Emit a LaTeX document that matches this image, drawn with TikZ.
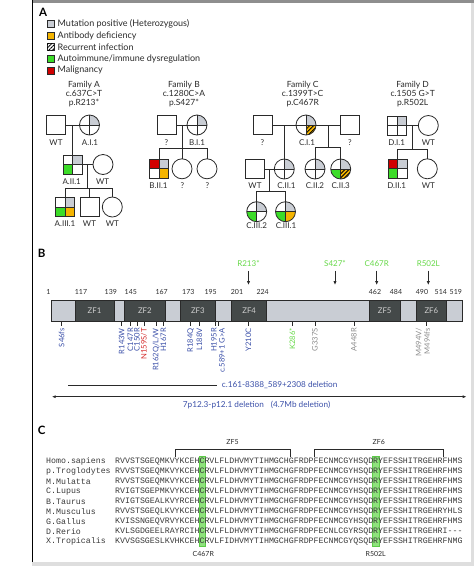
\documentclass[tikz,border=0pt]{standalone}
\usepackage{fontspec}
\setmainfont{Lato}
\setmonofont{Liberation Mono}
\usetikzlibrary{patterns.meta,arrows.meta}
\pgfdeclarelayer{bg}
\pgfsetlayers{bg,main}
\definecolor{mutgray}{HTML}{C9CDD4}
\definecolor{abor}{HTML}{F4B400}
\definecolor{grn}{HTML}{3CDC28}
\definecolor{mal}{HTML}{D00000}
\definecolor{linec}{HTML}{2A2A2A}
\definecolor{txt}{HTML}{2A2A2A}
\definecolor{zfdark}{HTML}{444949}
\definecolor{zftxt}{HTML}{D0D0D0}
\definecolor{mblue}{HTML}{3A4FA8}
\definecolor{mred}{HTML}{D42A2A}
\definecolor{mgreen}{HTML}{66D848}
\definecolor{mgray}{HTML}{8C8C8C}
\definecolor{seqc}{HTML}{3A3A3A}
\definecolor{hlfill}{HTML}{8EE27C}
\definecolor{hldraw}{HTML}{5CCB48}
\definecolor{topgray}{HTML}{8E8E8E}
\definecolor{edgegray}{HTML}{DEDEDE}
\newcommand\pedsq[5]{%
\begin{pgfonlayer}{bg}
\fill[#2] (#1.center) rectangle (#1.north west);
\fill[#3] (#1.center) rectangle (#1.north east);
\fill[#4] (#1.center) rectangle (#1.south west);
\fill[#5] (#1.center) rectangle (#1.south east);
\end{pgfonlayer}
\draw[pl] (#1.north) -- (#1.south) (#1.west) -- (#1.east);}
\newcommand\pedci[5]{%
\begin{pgfonlayer}{bg}
\begin{scope}
\clip (#1.center) circle[radius=10pt];
\fill[#2] (#1.center) rectangle (#1.north -| #1.west);
\fill[#3] (#1.center) rectangle (#1.north -| #1.east);
\fill[#4] (#1.center) rectangle (#1.south -| #1.west);
\fill[#5] (#1.center) rectangle (#1.south -| #1.east);
\end{scope}
\end{pgfonlayer}
\draw[pl] (#1.north) -- (#1.south) (#1.west) -- (#1.east);}
\begin{document}
\begin{tikzpicture}[x=1pt,y=-1pt,
  sq/.style={rectangle,draw=linec,line width=0.8pt,minimum size=19pt,inner sep=0pt,outer sep=0pt},
  ci/.style={circle,draw=linec,line width=0.8pt,minimum size=20pt,inner sep=0pt,outer sep=0pt},
  pl/.style={draw=linec,line width=0.8pt},
  lbl/.style={font=\fontsize{8}{9}\selectfont,text=txt,inner sep=0pt},
  fam/.style={font=\fontsize{8.5}{9.2}\selectfont,text=txt,align=center,inner sep=0pt},
  plab/.style={font=\bfseries\fontsize{11.5}{12}\selectfont,inner sep=0pt},
  legsq/.style={rectangle,draw=linec,line width=0.7pt,minimum size=7pt,inner sep=0pt},
  legtx/.style={font=\fontsize{9}{10}\selectfont,text=txt,anchor=west,inner sep=0pt},
  hatchor/.style={fill=abor,postaction={pattern={Lines[angle=45,distance=2.8pt,line width=0.8pt]},pattern color=black}},
  hatchw/.style={fill=white,postaction={pattern={Lines[angle=45,distance=2.6pt,line width=0.9pt]},pattern color=black}},
  bar/.style={rectangle,fill=mutgray,draw=linec,line width=0.8pt,minimum height=21.7pt,inner sep=0pt},
  zf/.style={rectangle,fill=zfdark,draw=linec,line width=0.8pt,minimum height=21.7pt,inner sep=0pt,text=zftxt,font=\fontsize{7.8}{8}\selectfont},
  num/.style={font=\fontsize{7}{8}\selectfont,text=txt,inner sep=0pt},
  glab/.style={font=\fontsize{8}{9}\selectfont,text=mgreen,inner sep=0pt},
  dtx/.style={font=\fontsize{8.2}{9}\selectfont,text=mblue,anchor=west,inner sep=0pt},
  mut/.style={font=\fontsize{7.6}{8.4}\selectfont,rotate=90,anchor=east,inner sep=0pt,align=right},
  tick/.style={draw=linec,line width=0.7pt},
  arr/.style={draw=linec,line width=0.8pt,-{Latex[length=4pt,width=3.4pt]}},
  darr/.style={draw=linec,line width=0.8pt,{Latex[length=4pt,width=3pt]}-{Latex[length=4pt,width=3pt]}},
  seq/.style={font=\ttfamily\fontsize{8.27}{9}\selectfont,text=seqc,anchor=west,inner sep=0pt},
  hl/.style={fill=hlfill,draw=hldraw,line width=0.5pt}]
\useasboundingbox (0,0) rectangle (474,566);
% frame
\fill[topgray] (32,0) rectangle (474,2.5);
\fill[edgegray] (471,2.5) rectangle (474,566);
\fill[edgegray] (32,562) rectangle (474,566);
\draw[black,line width=1pt] (32,0) -- (32,562);
% ---------------- Panel A ----------------
\node[plab] (pA) at (43,12.5) {A};
\node[legsq,fill=mutgray] (lg1) at (50.5,24) {};
\node[legtx] (lt1) at (57.5,24) {Mutation positive (Heterozygous)};
\node[legsq,fill=abor] (lg2) at (50.5,35.6) {};
\node[legtx] (lt2) at (57.5,35.6) {Antibody deficiency};
\node[legsq,hatchw] (lg3) at (50.5,47.2) {};
\node[legtx] (lt3) at (57.5,47.2) {Recurrent infection};
\node[legsq,fill=grn] (lg4) at (50.5,58.8) {};
\node[legtx] (lt4) at (57.5,58.8) {Autoimmune/immune dysregulation};
\node[legsq,fill=mal] (lg5) at (50.5,70.4) {};
\node[legtx] (lt5) at (57.5,70.4) {Malignancy};
% Family A
\node[fam] (famA) at (84,94.3) {Family A\\c.637C>T\\p.R213*};
\node[sq] (A0) at (56,125) {};
\node[ci] (A1) at (89.5,125) {};
\pedci{A1}{white}{mutgray}{white}{white}
\draw[pl] (A0) -- (A1);
\coordinate (mA1) at (72.5,125);
\node[sq] (A2) at (72.5,164.5) {};
\pedsq{A2}{white}{mutgray}{grn}{white}
\draw[pl] (mA1) -- (A2);
\node[ci] (A3) at (103,164.5) {};
\draw[pl] (A2) -- (A3);
\coordinate (mA2) at (87.8,164.5);
\coordinate (sA) at (0,188.3);
\node[sq] (A4) at (65,207) {};
\pedsq{A4}{white}{mutgray}{grn}{abor}
\node[sq] (A5) at (89.5,207) {};
\node[ci] (A6) at (112.3,207) {};
\draw[pl] (mA2) -- (mA2 |- sA);
\draw[pl] (A4.north) -- (A4.north |- sA) -- (A6.north |- sA) -- (A6.north);
\draw[pl] (A5.north) -- (A5.north |- sA);
\node[lbl] (lA0) at (56,143) {WT};
\node[lbl] (lA1) at (90,143) {A.I.1};
\node[lbl] (lA2) at (71.7,181.7) {A.II.1};
\node[lbl] (lA3) at (102.7,181.7) {WT};
\node[lbl] (lA4) at (65,224) {A.III.1};
\node[lbl] (lA5) at (89.5,224) {WT};
\node[lbl] (lA6) at (112.3,224) {WT};
% Family B
\node[fam] (famB) at (184,94.3) {Family B\\c.1280C>A\\p.S427*};
\node[sq] (B0) at (167,125) {};
\node[ci] (B1) at (197,125) {};
\pedci{B1}{white}{mutgray}{white}{white}
\draw[pl] (B0) -- (B1);
\coordinate (mB1) at (182,125);
\coordinate (sB) at (0,148.3);
\node[sq] (B2) at (159,168.8) {};
\pedsq{B2}{mal}{mutgray}{white}{abor}
\node[ci] (B3) at (182,168.8) {};
\node[ci] (B4) at (207,168.8) {};
\draw[pl] (mB1) -- (B3);
\draw[pl] (B2.north) -- (B2.north |- sB) -- (B4.north |- sB) -- (B4.north);
\node[lbl] (lB0) at (166.5,143) {?};
\node[lbl] (lB1) at (197,143) {B.I.1};
\node[lbl] (lB2) at (158.5,186) {B.II.1};
\node[lbl] (lB3) at (182.5,186) {?};
\node[lbl] (lB4) at (207.3,186) {?};
% Family C
\node[fam] (famC) at (302.7,94.3) {Family C\\c.1399T>C\\p.C467R};
\node[sq] (C0) at (263,125) {};
\node[ci] (C1) at (306,125) {};
\pedci{C1}{white}{mutgray}{white}{hatchor}
\node[sq] (C2) at (350,125) {};
\draw[pl] (C0) -- (C1);
\draw[pl] (C1) -- (C2);
\coordinate (mC1) at (284.3,125);
\coordinate (mC2) at (328.3,125);
\coordinate (sC1) at (0,147.3);
\node[sq] (C3) at (255,169) {};
\node[ci] (C4) at (284.3,169) {};
\pedci{C4}{white}{mutgray}{white}{white}
\draw[pl] (mC1) -- (C4);
\draw[pl] (C3) -- (C4);
\node[ci] (C5) at (315,169) {};
\pedci{C5}{white}{mutgray}{white}{white}
\node[ci] (C6) at (340.7,169) {};
\pedci{C6}{white}{mutgray}{grn}{hatchor}
\draw[pl] (mC2) -- (mC2 |- sC1);
\draw[pl] (C5.north) -- (C5.north |- sC1) -- (C6.north |- sC1) -- (C6.north);
\coordinate (mC3) at (269.6,169);
\coordinate (sC2) at (0,191.7);
\node[ci] (C7) at (256.7,211.7) {};
\pedci{C7}{white}{mutgray}{grn}{white}
\node[ci] (C8) at (285.5,211.7) {};
\pedci{C8}{white}{mutgray}{grn}{abor}
\draw[pl] (mC3) -- (mC3 |- sC2);
\draw[pl] (C7.north) -- (C7.north |- sC2) -- (C8.north |- sC2) -- (C8.north);
\node[lbl] (lC0) at (262.3,143) {?};
\node[lbl] (lC1) at (307,143) {C.I.1};
\node[lbl] (lC2) at (350,143) {?};
\node[lbl] (lC3) at (255,186) {WT};
\node[lbl] (lC4) at (286.5,186) {C.II.1};
\node[lbl] (lC5) at (315,186) {C.II.2};
\node[lbl] (lC6) at (340.7,186) {C.II.3};
\node[lbl] (lC7) at (256.7,225.7) {C.III.2};
\node[lbl] (lC8) at (286,225.7) {C.III.1};
% Family D
\node[fam] (famD) at (412.7,94.3) {Family D\\c.1505 G>T\\p.R502L};
\node[sq] (D0) at (397,125.5) {};
\pedsq{D0}{white}{mutgray}{white}{white}
\node[ci] (D1) at (428.3,125.5) {};
\draw[pl] (D0) -- (D1);
\coordinate (mD1) at (412.4,125.5);
\coordinate (sD) at (0,149.3);
\node[sq] (D2) at (397.8,168.8) {};
\pedsq{D2}{mal}{mutgray}{grn}{white}
\node[ci] (D3) at (427.3,168.8) {};
\draw[pl] (mD1) -- (mD1 |- sD);
\draw[pl] (D2.north) -- (D2.north |- sD) -- (D3.north |- sD) -- (D3.north);
\node[lbl] (lD0) at (396.7,143) {D.I.1};
\node[lbl] (lD1) at (428.3,143) {WT};
\node[lbl] (lD2) at (396.7,186) {D.II.1};
\node[lbl] (lD3) at (428.3,186) {WT};
% ---------------- Panel B ----------------
\node[plab] (pB) at (41.7,253.3) {B};
\node[bar,minimum width=410.6pt] (bar) at (257,310.85) {};
\node[zf,minimum width=39pt] (zf1) at (94.5,310.85) {ZF1};
\node[zf,minimum width=41.7pt] (zf2) at (144.85,310.85) {ZF2};
\node[zf,minimum width=34.3pt] (zf3) at (197.85,310.85) {ZF3};
\node[zf,minimum width=35pt] (zf4) at (249.2,310.85) {ZF4};
\node[zf,minimum width=30.7pt] (zf5) at (384.65,310.85) {ZF5};
\node[zf,minimum width=30.7pt] (zf6) at (431.35,310.85) {ZF6};
\node[num] (n1) at (48.3,292.3) {1};
\node[num] (n2) at (81,292.3) {117};
\node[num] (n3) at (110.8,292.3) {139};
\node[num] (n4) at (130.8,292.3) {145};
\node[num] (n5) at (161.7,292.3) {167};
\node[num] (n6) at (188.3,292.3) {173};
\node[num] (n7) at (210.7,292.3) {195};
\node[num] (n8) at (237,292.3) {201};
\node[num] (n9) at (262.7,292.3) {224};
\node[num] (n10) at (375,292.3) {462};
\node[num] (n11) at (396,292.3) {484};
\node[num] (n12) at (422,292.3) {490};
\node[num] (n13) at (440.8,292.3) {514};
\node[num] (n14) at (455.8,292.3) {519};
% arrows above
\node[glab] (g1) at (248.5,264) {R213*};
\node[glab] (g2) at (335,264) {S427*};
\node[glab] (g3) at (376.7,264) {C467R};
\node[glab] (g4) at (428.3,264) {R502L};
\coordinate (t1) at (248.5,285);
\coordinate (t2) at (335,285);
\coordinate (t3) at (376.7,285);
\coordinate (t4) at (428.3,285);
\draw[arr] ([yshift=-3.5pt]g1.south) -- (t1);
\draw[arr] ([yshift=-3.5pt]g2.south) -- (t2);
\draw[arr] ([yshift=-3.5pt]g3.south) -- (t3);
\draw[arr] ([yshift=-3.5pt]g4.south) -- (t4);
% mutations below
\node[mut,text=mblue] (m1) at (61.7,328) {S46fs};
\node[mut,text=mblue] (m2) at (121.7,328) {R143W};
\node[mut,text=mblue] (m3) at (130.5,328) {C147R};
\node[mut,text=mblue] (m4) at (137,328) {C150R};
\node[mut,text=mred] (m5) at (144,328) {N159S/T};
\node[mut,text=mblue] (m6) at (156.2,328) {R162Q/L/W};
\node[mut,text=mblue] (m7) at (163.5,328) {H167R};
\node[mut,text=mblue] (m8) at (190.8,328) {R184Q};
\node[mut,text=mblue] (m9) at (199.5,328) {L188V};
\node[mut,text=mblue] (m10) at (214,328) {H195R};
\node[mut,text=mblue] (m11) at (222,328) {c.589+1 G>A};
\node[mut,text=mblue] (m12) at (248.3,328) {Y210C};
\node[mut,text=mgreen] (m13) at (292.3,328) {K286*};
\node[mut,text=mgray] (m14) at (315,328) {G337S};
\node[mut,text=mgray] (m15) at (354,328) {A448R};
\node[mut,text=mgray] (m16) at (422.8,328) {M494V/\\M494fs};
\foreach \m in {m1,m2,m3,m4,m5,m6,m7,m8,m9,m12,m13,m14,m15}
  \draw[tick] (bar.south -| \m.east) -- ([yshift=1.8pt]\m.east);
\draw[tick] ([xshift=1.8pt]bar.south -| m10.east) -- ([xshift=1.8pt,yshift=1.8pt]m10.east);
\draw[tick] ([xshift=-3.7pt]bar.south -| m11.east) -- ([xshift=-3.7pt,yshift=1.8pt]m11.east);
\draw[tick] ([xshift=4pt]bar.south -| m16.east) -- ([xshift=4pt,yshift=1.8pt]m16.east);
% deletions
\node[dtx] (del1) at (221.7,385) {c.161-8388\_589+2308 deletion};
\coordinate (d1s) at (68.3,385);
\draw[pl] (d1s) -- ([xshift=-5pt]del1.west);
\coordinate (d2s) at (51.7,396.7);
\coordinate (d2e) at (466.7,396.7);
\draw[darr] (d2s) -- (d2e);
\node[dtx] (del2) at (182.7,405.5) {7p12.3-p12.1 deletion\hspace{7pt}(4.7Mb deletion)};
% ---------------- Panel C ----------------
\node[plab] (pC) at (41.7,430.7) {C};
\node[num] (zl5) at (232.5,441.7) {ZF5};
\node[num] (zl6) at (378.8,441.7) {ZF6};
\draw[pl] (175,457) -- (175,449.3) -- (290,449.3) -- (290,457);
\draw[pl] (314.3,457) -- (314.3,449.3) -- (443.3,449.3) -- (443.3,457);
\fill[hl] (198.8,456.5) rectangle (205.3,546.5);
\fill[hl] (372.4,456.5) rectangle (378.9,546.5);
\node[seq] (s1) at (46,461.7) {Homo.sapiens};
\node[seq] (s2) at (46,471.7) {p.Troglodytes};
\node[seq] (s3) at (46,481.7) {M.Mulatta};
\node[seq] (s4) at (46,491.7) {C.Lupus};
\node[seq] (s5) at (46,501.7) {B.Taurus};
\node[seq] (s6) at (46,511.7) {M.Musculus};
\node[seq] (s7) at (46,521.7) {G.Gallus};
\node[seq] (s8) at (46,531.7) {D.Rerio};
\node[seq] (s9) at (46,541.7) {X.Tropicalis};
\node[seq] (q1) at (115,461.7) {RVVSTSGEQMKVYKCEHCRVLFLDHVMYTIHMGCHGFRDPFECNMCGYHSQDRYEFSSHITRGEHRFHMS};
\node[seq] (q2) at (115,471.7) {RVVSTSGEQMKVYKCEHCRVLFLDHVMYTIHMGCHGFRDPFECNMCGYHSQDRYEFSSHITRGEHRFHMS};
\node[seq] (q3) at (115,481.7) {RVVSTSGEQMKVYKCEHCRVLFLDHVMYTIHMGCHGFRDPFECNMCGYHSQDRYEFSSHITRGEHRFHMS};
\node[seq] (q4) at (115,491.7) {RVIGTSGEPMKVYKCEHCRVLFLDHVMYTIHMGCHGFRDPFECNMCGYHSQDRYEFSSHITRGEHRFHMS};
\node[seq] (q5) at (115,501.7) {RVIGTSGEALKVYRCEHCRVLFLDHVMYTIHMGCHGFRDPFECNMCGYHSQDRYEFSSHITRGEHRFHMS};
\node[seq] (q6) at (115,511.7) {RVVSTSGEQLKVYKCEHCRVLFLDHVMYTIHMGCHGFRDPFECNMCGYHSQDRYEFSSHITRGEHRYHLS};
\node[seq] (q7) at (115,521.7) {KVISSNGEQVRVYKCEHCRVLFLDHVMYTIHMGCHGFRDPFECNMCGYHSQDRYEFSSHITRGEHRFHMS};
\node[seq] (q8) at (115,531.7) {KVLSGDGEELRAYRCIHCRVLFLDHVMYTIHMGCHGFRDPFECNLCGYRSQDRYEFSSHITRGEHRI---};
\node[seq] (q9) at (115,541.7) {KVVSGSGESLKVHKCEHCRVLFIDHVMYTIHMGCHGFRDPFECNMCGYQSQDRYEFSSHITRGEHRFNMG};
\node[num] (cl1) at (203.3,554) {C467R};
\node[num] (cl2) at (375.7,554) {R502L};
\end{tikzpicture}
\end{document}
